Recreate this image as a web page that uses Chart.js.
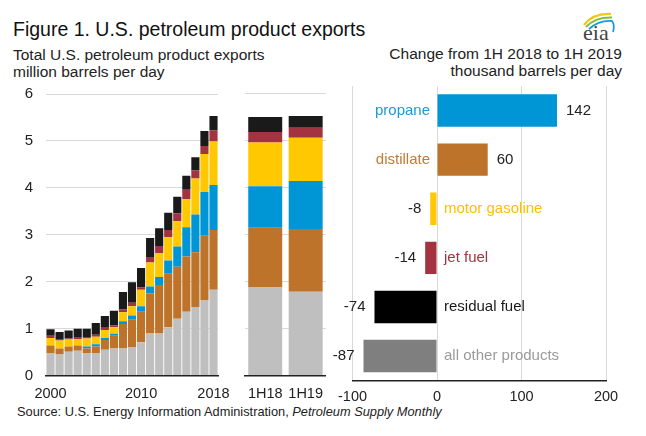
<!DOCTYPE html>
<html>
<head>
<meta charset="utf-8">
<script src="https://cdn.jsdelivr.net/npm/chart.js@4.4.1/dist/chart.umd.min.js"></script>
<style>
  body { margin: 0; width: 646px; height: 436px; background: #fff; position: relative; overflow: hidden;
         font-family: "Liberation Sans", Arial, sans-serif; color: #222; }
  .txt { position: absolute; white-space: nowrap; line-height: 1; }
  canvas { position: absolute; }
</style>
</head>
<body>
<div class="txt" style="left:13px;top:20px;font-size:19.5px;color:#111">Figure 1. U.S. petroleum product exports</div>
<div class="txt" style="left:13px;top:47px;font-size:15.5px">Total U.S. petroleum product exports</div>
<div class="txt" style="left:13px;top:64px;font-size:15.5px">million barrels per day</div>
<div class="txt" style="right:24px;top:46px;font-size:15.5px;text-align:right">Change from 1H 2018 to 1H 2019</div>
<div class="txt" style="right:24px;top:63px;font-size:15.5px;text-align:right">thousand barrels per day</div>
<div class="txt" style="left:17px;top:406px;font-size:12.8px">Source: U.S. Energy Information Administration, <i>Petroleum Supply Monthly</i></div>

<svg style="position:absolute;left:580px;top:8px" width="40" height="36">
  <path d="M4 17 Q13 5 31 6" stroke="#f5c518" stroke-width="2.2" fill="none"/>
  <path d="M6 19 Q15 9 32 9.5" stroke="#7cc242" stroke-width="2" fill="none"/>
  <path d="M9 21 Q19 12 32 13 Q35 17 33 24" stroke="#1f9ad6" stroke-width="1.8" fill="none"/>
  <text x="3" y="32" font-family="Liberation Serif, serif" font-size="22" fill="#444">eia</text>
</svg>

<canvas id="yearChart" width="240" height="341" style="left:0px;top:72px"></canvas>
<canvas id="halfChart" width="100" height="333" style="left:235px;top:80px"></canvas>
<canvas id="changeChart" width="310" height="334" style="left:330px;top:80px"></canvas>

<script>
// annual exports, million barrels per day
const years = ['2000','2001','2002','2003','2004','2005','2006','2007','2008','2009',
               '2010','2011','2012','2013','2014','2015','2016','2017','2018'];
const allOther      = [0.48,0.45,0.51,0.53,0.48,0.48,0.55,0.58,0.58,0.60,0.71,0.91,0.91,1.03,1.21,1.36,1.46,1.60,1.83];
const distillate    = [0.16,0.13,0.11,0.11,0.10,0.14,0.21,0.27,0.52,0.59,0.65,0.84,1.02,1.14,1.11,1.18,1.17,1.38,1.27];
const propane       = [0.00,0.00,0.00,0.00,0.04,0.05,0.04,0.04,0.06,0.09,0.12,0.15,0.17,0.28,0.43,0.62,0.80,0.93,0.96];
const motorGasoline = [0.16,0.17,0.15,0.14,0.17,0.16,0.17,0.14,0.19,0.20,0.35,0.51,0.51,0.50,0.54,0.60,0.77,0.81,0.93];
const jetFuel       = [0.05,0.03,0.02,0.04,0.03,0.04,0.05,0.04,0.06,0.07,0.05,0.10,0.15,0.15,0.17,0.20,0.17,0.17,0.23];
const residualFuel  = [0.14,0.15,0.17,0.18,0.18,0.25,0.25,0.31,0.37,0.44,0.41,0.42,0.38,0.37,0.35,0.30,0.28,0.32,0.31];
const yearTickLabels = ['2000','2010','2018'];

// first half of year
const halves = ['1H18','1H19'];
const halfAllOther      = [1.87,1.78];
const halfDistillate    = [1.27,1.33];
const halfPropane       = [0.88,1.02];
const halfMotorGasoline = [0.93,0.92];
const halfJetFuel       = [0.22,0.21];
const halfResidualFuel  = [0.32,0.25];

// change 1H2018 -> 1H2019, thousand barrels per day
const products = ['propane','distillate','motor gasoline','jet fuel','residual fuel','all other products'];
const changeValues = [142,60,-8,-14,-74,-87];

const colors = {
  other: '#bfbfbf', distillate: '#bd732a', propane: '#0096d6',
  gasoline: '#ffc800', jet: '#a33340', residual: '#1a1a1a'
};
const changeBarColors = ['#0096d6','#bd732a','#ffc800','#a33340','#000000','#7f7f7f'];
const changeTextColors = ['#1a9ad6','#c47a35','#ffc000','#a33340','#1a1a1a','#9a9a9a'];

Chart.defaults.font.family = '"Liberation Sans", Arial, sans-serif';
Chart.defaults.color = '#222';
Chart.defaults.animation = false;

function stackSets(o, d, p, g, j, r) {
  return [
    { label: 'all other products', data: o, backgroundColor: colors.other },
    { label: 'distillate', data: d, backgroundColor: colors.distillate },
    { label: 'propane', data: p, backgroundColor: colors.propane },
    { label: 'motor gasoline', data: g, backgroundColor: colors.gasoline },
    { label: 'jet fuel', data: j, backgroundColor: colors.jet },
    { label: 'residual fuel', data: r, backgroundColor: colors.residual }
  ];
}

const gridColor = '#d9d9d9';

// left panel: annual stacked bars
new Chart(document.getElementById('yearChart'), {
  type: 'bar',
  data: { labels: years, datasets: stackSets(allOther, distillate, propane, motorGasoline, jetFuel, residualFuel) },
  options: {
    responsive: false,
    layout: { padding: { top: 13, right: 14, left: 0, bottom: 0 } },
    datasets: { bar: { barPercentage: 0.9, categoryPercentage: 1 } },
    plugins: { legend: { display: false }, tooltip: { enabled: false } },
    scales: {
      x: {
        stacked: true,
        grid: { display: false, drawTicks: false },
        border: { display: true, color: '#222', width: 1.5 },
        ticks: {
          autoSkip: false, maxRotation: 0, padding: 10, font: { size: 14.5 },
          callback: (v, i) => yearTickLabels.includes(years[i]) ? years[i] : ''
        }
      },
      y: {
        stacked: true, min: 0, max: 6,
        grid: { color: gridColor, drawTicks: false },
        border: { display: false },
        ticks: { stepSize: 1, padding: 13, font: { size: 15 } },
        afterFit: (scale) => { scale.width = 46; }
      }
    }
  }
});

// middle panel: first half bars
new Chart(document.getElementById('halfChart'), {
  type: 'bar',
  data: { labels: halves, datasets: stackSets(halfAllOther, halfDistillate, halfPropane, halfMotorGasoline, halfJetFuel, halfResidualFuel) },
  options: {
    responsive: false,
    layout: { padding: { top: 13, right: 8, left: 0, bottom: 0 } },
    datasets: { bar: { barPercentage: 0.84, categoryPercentage: 1 } },
    plugins: { legend: { display: false }, tooltip: { enabled: false } },
    scales: {
      x: {
        stacked: true,
        grid: { display: false, drawTicks: false },
        border: { display: true, color: '#222', width: 1.5 },
        ticks: { maxRotation: 0, padding: 10, font: { size: 14.5 } }
      },
      y: {
        stacked: true, min: 0, max: 6,
        grid: { color: gridColor, drawTicks: false },
        border: { display: false },
        ticks: { stepSize: 1, display: false },
        afterFit: (scale) => { scale.width = 10; }
      }
    }
  }
});

// labels next to the change bars
const changeLabelPlugin = {
  id: 'changeLabels',
  afterDatasetsDraw(chart) {
    const ctx = chart.ctx;
    const meta = chart.getDatasetMeta(0);
    ctx.save();
    ctx.font = '15px "Liberation Sans", Arial, sans-serif';
    ctx.textBaseline = 'middle';
    meta.data.forEach((bar, i) => {
      const v = changeValues[i];
      const zero = chart.scales.x.getPixelForValue(0);
      if (v >= 0) {
        ctx.fillStyle = changeTextColors[i];
        ctx.textAlign = 'right';
        ctx.fillText(products[i], zero - 7, bar.y);
        ctx.fillStyle = '#222';
        ctx.textAlign = 'left';
        ctx.fillText(String(v), bar.x + 9, bar.y);
      } else {
        ctx.fillStyle = changeTextColors[i];
        ctx.textAlign = 'left';
        ctx.fillText(products[i], zero + 7, bar.y);
        ctx.fillStyle = '#222';
        ctx.textAlign = 'right';
        ctx.fillText(String(v), bar.x - 9, bar.y);
      }
    });
    ctx.restore();
  }
};

// right panel: change by product
new Chart(document.getElementById('changeChart'), {
  type: 'bar',
  data: { labels: products, datasets: [{ data: changeValues, backgroundColor: changeBarColors }] },
  plugins: [changeLabelPlugin],
  options: {
    responsive: false,
    indexAxis: 'y',
    layout: { padding: { top: 6, right: 34, left: 22, bottom: 0 } },
    datasets: { bar: { barPercentage: 0.66, categoryPercentage: 1 } },
    plugins: { legend: { display: false }, tooltip: { enabled: false } },
    scales: {
      x: {
        min: -100, max: 200,
        grid: { color: gridColor, drawTicks: false },
        border: { display: true, color: '#222', width: 1.5 },
        ticks: { stepSize: 100, padding: 8, font: { size: 14.5 } }
      },
      y: { display: false }
    }
  }
});
</script>
</body>
</html>
